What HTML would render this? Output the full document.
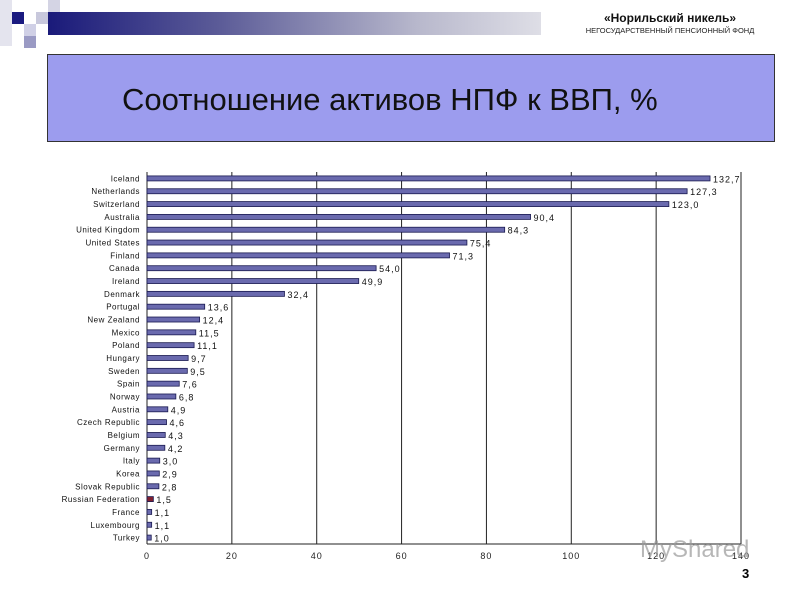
<!DOCTYPE html>
<html><head><meta charset="utf-8">
<style>
body{margin:0;width:800px;height:600px;background:#fff;overflow:hidden;position:relative;font-family:"Liberation Sans","Noto Sans CJK SC",sans-serif}
.abs{position:absolute}
</style></head><body>
<div class="abs" style="left:0;top:0;width:12px;height:46px;background:#e4e4ee"></div>
<div class="abs" style="left:12px;top:12px;width:12px;height:12px;background:#1a1a80"></div>
<div class="abs" style="left:36px;top:12px;width:14px;height:12px;background:#c8c8dc"></div>
<div class="abs" style="left:48px;top:0;width:12px;height:12px;background:#d4d4e4"></div>
<div class="abs" style="left:24px;top:24px;width:12px;height:12px;background:#d0d0e6"></div>
<div class="abs" style="left:24px;top:36px;width:12px;height:12px;background:#9a9ac4"></div>
<div class="abs" style="left:48px;top:12px;width:493px;height:23px;background:linear-gradient(to right,#1a1a7a,#5c5c98 35%,#b8b8cc 75%,#dedee6)"></div>
<div class="abs" style="left:560px;top:11px;width:220px;text-align:center;font-size:12px;font-weight:bold;color:#111">«Норильский никель»</div>
<div class="abs" style="left:560px;top:26px;width:220px;text-align:center;font-size:7.5px;color:#222">НЕГОСУДАРСТВЕННЫЙ ПЕНСИОННЫЙ ФОНД</div>
<div class="abs" style="left:47px;top:54px;width:728px;height:88px;background:#9c9cee;border:1px solid #333;box-sizing:border-box"></div>
<div class="abs" style="left:122px;top:82px;font-size:31px;color:#111;white-space:nowrap">Соотношение активов НПФ  к ВВП, %</div>
<svg class="abs" style="left:0;top:0" width="800" height="600" id="chart"></svg>
<div class="abs" style="left:640px;top:536px;font-size:24px;color:#999;opacity:0.7">MyShared</div>
<div class="abs" style="left:742px;top:566px;font-size:13px;font-weight:bold">3</div>
<script>
const categories=["Iceland","Netherlands","Switzerland","Australia","United Kingdom","United States","Finland","Canada","Ireland","Denmark","Portugal","New Zealand","Mexico","Poland","Hungary","Sweden","Spain","Norway","Austria","Czech Republic","Belgium","Germany","Italy","Korea","Slovak Republic","Russian Federation","France","Luxembourg","Turkey"];
const values=[132.7,127.3,123.0,90.4,84.3,75.4,71.3,54.0,49.9,32.4,13.6,12.4,11.5,11.1,9.7,9.5,7.6,6.8,4.9,4.6,4.3,4.2,3.0,2.9,2.8,1.5,1.1,1.1,1.0];
const ticks=[0,20,40,60,80,100,120,140];
(function(){
const NS="http://www.w3.org/2000/svg",svg=document.getElementById('chart');
const x0=147,x1=741,pTop=172,pBot=544,maxV=140;
const n=categories.length,band=(pBot-pTop)/n;
const xs=v=>x0+v/maxV*(x1-x0);
const yc=i=>pTop+band*(i+0.5);
function mk(t,a){const e=document.createElementNS(NS,t);for(const k in a)e.setAttribute(k,a[k]);svg.appendChild(e);return e;}
ticks.forEach(t=>{
 const g=mk('line',{x1:xs(t),x2:xs(t),y1:pTop,y2:pBot,stroke:'#222','stroke-width':1});
 
 
 const l=mk('text',{x:xs(t),y:pBot+15,'text-anchor':'middle','font-size':9,fill:'#222','font-family':'Liberation Sans','letter-spacing':1});
 l.textContent=t;
 
 
});
const ax=mk('line',{x1:x0,x2:x1,y1:pBot,y2:pBot,stroke:'#222'});


const ay=mk('line',{x1:x0,x2:x0,y1:pTop,y2:pBot,stroke:'#222'});


categories.forEach((c,i)=>{
 const y=yc(i),v=values[i];
 const r=mk('rect',{x:x0,y:y-2.5,width:xs(v)-x0,height:5,fill:c==="Russian Federation"?'#802030':'#6a6aae',stroke:'#1a1a50','stroke-width':0.8});
 
 
 const l=mk('text',{x:x0-7,y:y+3,'text-anchor':'end','font-size':8,fill:'#111','font-family':'Liberation Sans','letter-spacing':0.5});
 l.textContent=c;
 
 
 const vl=mk('text',{x:xs(v)+3,y:y+4,'font-size':9,fill:'#111','font-family':'Liberation Sans','letter-spacing':1});
 vl.textContent=v.toFixed(1).replace('.',',');
 
 
});
})();
</script>
</body></html>
